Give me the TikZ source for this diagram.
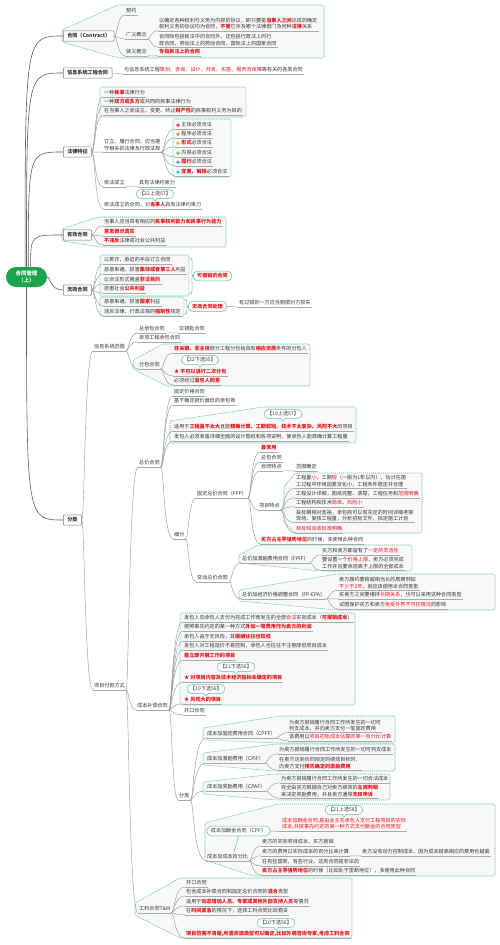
\documentclass[tikz,border=0pt]{standalone}
\usepackage{fontspec}
\setmainfont{Noto Sans CJK SC}
\usetikzlibrary{calc,shapes.misc}
\definecolor{grn}{HTML}{5CC39A}
\definecolor{rootg}{HTML}{1BA34E}
\definecolor{red0}{HTML}{E8141B}
\definecolor{lin}{HTML}{9A9A9A}
\definecolor{rlin}{HTML}{606060}
\definecolor{txt}{HTML}{333333}
\definecolor{bfill}{HTML}{F8F8F8}
\definecolor{ic1}{HTML}{D9252A}
\definecolor{ic2}{HTML}{F0801F}
\definecolor{ic3}{HTML}{F5B300}
\definecolor{ic4}{HTML}{4DB848}
\definecolor{ic5}{HTML}{3A8FD9}
\definecolor{ic6}{HTML}{25B3C4}
\newcommand\fs{\fontsize{5.1}{6.6}\selectfont}
\newcommand\rb[1]{\textcolor{red0}{\bfseries #1}}
\newcommand\rn[1]{\textcolor{red0}{#1}}
\newcommand\cptr[1]{%
  \fill[white] ([xshift=-1.9pt,yshift=0.6pt]#1.south) -- ([yshift=-2.4pt]#1.south) -- ([xshift=1.9pt,yshift=0.6pt]#1.south) -- cycle;
  \draw[draw=grn,line width=0.5pt,line join=round] ([xshift=-1.9pt]#1.south) -- ([yshift=-2.4pt]#1.south) -- ([xshift=1.9pt]#1.south);}
\tikzset{
  uline/.style={draw=lin!85, line width=0.35pt},
  lf/.style={anchor=west, inner xsep=1pt, inner ysep=1.2pt, align=left, text=txt, font=\fs,
    append after command={(\tikzlastnode.south west) edge[uline] (\tikzlastnode.south east)}},
  l1/.style={anchor=west, draw=lin!80!black, line width=0.5pt, fill=white, rounded corners=0.8pt,
    inner xsep=4pt, inner ysep=2.6pt, font=\fs\bfseries, text=txt},
  rootn/.style={rounded rectangle, fill=rootg, text=white, font=\fontsize{5.4}{7.4}\selectfont\bfseries,
    minimum width=43pt, minimum height=20pt, align=center, inner sep=1pt},
  bnd/.style={draw=grn, line width=0.55pt, dash pattern=on 1.2pt off 0.8pt, fill=bfill, rounded corners=1.5pt},
  callo/.style={draw=grn, line width=0.5pt, fill=white, rounded corners=4.2pt, inner xsep=3pt, inner ysep=2pt, font=\fs, text=txt},
  sumbox/.style={draw=grn, line width=0.6pt, fill=white, rounded corners=4.5pt, inner xsep=4pt, inner ysep=2.4pt, font=\fs\bfseries, text=red0},
  sumln/.style={draw=grn, line width=0.5pt},
  icn/.style={circle, fill=#1, minimum size=3.6pt, inner sep=0pt, text=white, font=\fontsize{2.6}{2.6}\selectfont\bfseries},
  br/.style={draw=lin, line width=0.45pt,
    to path={(\tikztostart) .. controls ($(\tikztostart)+(3,0)$) and ($(\tikztostart |- \tikztotarget)+(3,0)$) .. (\tikztotarget)}},
  rootbr/.style={draw=rlin, line width=0.6pt,
    to path={(\tikztostart) .. controls (\tikztostart |- \tikztotarget) .. (\tikztotarget)}},
}
\begin{document}
\begin{tikzpicture}[x=1pt,y=-1pt]
\useasboundingbox[fill=white] (0,0) rectangle (500,945);
% ---------- boundaries ----------
\path[bnd] (62,30) -- (118,5) -- (324,5) -- (324,58) -- (118,58) -- (62,42) -- cycle;
\path[bnd] (100,87) rectangle (246,117);
\path[bnd] (173,119) rectangle (231,177);
\path[bnd] (62,229) -- (98,217) -- (226,217) -- (226,247) -- (100,247) -- (62,241) -- cycle;
\path[bnd] (100,255) rectangle (189,296);
\path[bnd] (100,297) rectangle (184,316);
\path[bnd] (133,360) -- (163,344) -- (310,344) -- (310,386) -- (167,386) -- (133,369) -- cycle;
\path[bnd] (170,421) -- (263,407) -- (356,407) -- (356,443) -- (170,443) -- cycle;
\path[bnd] (284,487) -- (295,473) -- (422,473) -- (422,533) -- (295,533) -- (284,522) -- cycle;
\path[bnd] (239,555) -- (258,545) -- (412,545) -- (412,571) -- (320,571) -- (239,563) -- cycle;
\path[bnd] (239,590) -- (337,574) -- (495,574) -- (495,610) -- (337,610) -- (239,601) -- cycle;
\path[bnd] (180,613) rectangle (355,705);
\path[bnd] (203,728) -- (280,716) -- (395,716) -- (395,743) -- (280,743) -- (203,740) -- cycle;
\path[bnd] (203,753) -- (275,744) -- (395,744) -- (395,771) -- (275,771) -- (203,765) -- cycle;
\path[bnd] (203,782) -- (275,774) -- (390,774) -- (390,800) -- (275,800) -- (203,794) -- cycle;
\path[bnd] (205,823) -- (278,804) -- (495,804) -- (495,876) -- (253,876) -- (205,860) -- cycle;
\path[bnd] (135,903) -- (180,878) -- (352,878) -- (352,938) -- (180,938) -- (135,915) -- cycle;
% ---------- root and level 1 ----------
\node[rootn] (root) at (26.5,277) {合同管理\\（上）};
\node[l1] (n1) at (63,36) {合同（Contract）};
\node[l1] (n2) at (63,73) {信息系统工程合同};
\node[l1] (n3) at (63,152) {法律特征};
\node[l1] (n4) at (63,235) {有效合同};
\node[l1] (n5) at (63,290) {无效合同};
\node[l1] (n6) at (63,520) {分类};
\draw[rootbr] (root.98) to (n1.west);
\draw[rootbr] (root.90) to (n2.west);
\draw[rootbr] (root.80) to (n3.west);
\draw[rootbr] (root.68) to (n4.west);
\draw[br, draw=rlin, line width=0.6pt] (root.east) to (n5.west);
\draw[rootbr] (root.south) to (n6.west);
% ---------- 合同 ----------
\node[lf] (c1a) at (125,11) {契约};
\node[lf] (c1b) at (125,35) {广义概念};
\node[lf] (c1b1) at (158,23.5) {以确定各种权利与义务为内容的协议，即只要是\rb{当事人之间}达成的确定\\权利义务的协议均为合同，\rb{不管}它涉及哪个法律部门及何种\rb{法律}关系};
\node[lf] (c1b2) at (158,40) {合同除包括民法中的合同外，还包括行政法上的行\\政合同、劳动法上的劳动合同、国际法上的国家合同};
\node[lf] (c1c) at (125,52) {狭义概念};
\node[lf] (c1c1) at (158,52) {\rb{专指民法上的合同}};
\foreach \q in {c1a,c1b,c1c} \draw[br] (n1.east) to (\q.south west);
\foreach \q in {c1b1,c1b2} \draw[br] (c1b.south east) to (\q.south west);
\draw[br] (c1c.south east) to (c1c1.south west);
% ---------- 信息系统工程合同 ----------
\node[lf] (c2a) at (123,70) {与信息系统工程\rn{策划、咨询、设计、开发、实施、服务及保障}等有关的各类合同};
\draw[br] (n2.east) to (c2a.south west);
% ---------- 法律特征 ----------
\node[lf] (c3a) at (103,93) {一种\rb{民事}法律行为};
\node[lf] (c3b) at (103,102) {一种\rb{双方或多方}或共同的民事法律行为};
\node[lf] (c3c) at (103,111) {在当事人之间设立、变更、终止\rb{财产性}的民事权利义务为目的};
\node[lf] (c3d) at (103,145) {订立、履行合同，应当遵\\守相关的法律及行政法规};
\node[lf] (i1) at (175,125) {\hspace{5.2pt}主体必须合法};
\node[lf] (i2) at (175,134) {\hspace{5.2pt}程序必须合法};
\node[lf] (i3) at (175,143) {\hspace{5.2pt}\rb{形式}必须合法};
\node[lf] (i4) at (175,153) {\hspace{5.2pt}内容必须合法};
\node[lf] (i5) at (175,162) {\hspace{5.2pt}\rb{履行}必须合法};
\node[lf] (i6) at (175,172) {\hspace{5.2pt}\rb{变更、解除}必须合法};
\node[icn=ic1] (d1) at ([xshift=3pt]i1.west) {1};
\node[icn=ic2] (d2) at ([xshift=3pt]i2.west) {2};
\node[icn=ic3] (d3) at ([xshift=3pt]i3.west) {3};
\node[icn=ic4] (d4) at ([xshift=3pt]i4.west) {4};
\node[icn=ic5] (d5) at ([xshift=3pt]i5.west) {5};
\node[icn=ic6] (d6) at ([xshift=3pt]i6.west) {6};
\node[lf] (c3e) at (103,183) {依法成立};
\node[lf] (c3e1) at (138,183) {具有法律约束力};
\node[lf] (c3f) at (103,205) {依法成立的合同，对\rb{当事人}具有法律约束力};
\node[callo] (co1) at (155,194) {【22上选57】};
\cptr{co1}
\foreach \q in {c3a,c3b,c3c,c3d,c3e,c3f} \draw[br] (n3.east) to (\q.south west);
\foreach \q in {i1,i2,i3,i4,i5,i6} \draw[br] (c3d.south east) to (\q.south west);
\draw[br] (c3e.south east) to (c3e1.south west);
% ---------- 有效合同 ----------
\node[lf] (c4a) at (103,222) {当事人应当具有相应的\rb{民事权利能力和民事行为能力}};
\node[lf] (c4b) at (103,232) {\rb{意思表示真实}};
\node[lf] (c4c) at (103,241) {\rb{不违反}法律或社会公共利益};
\foreach \q in {c4a,c4b,c4c} \draw[br] (n4.east) to (\q.south west);
% ---------- 无效合同 ----------
\node[lf] (c5a) at (103,260) {以欺诈、胁迫的手段订立合同};
\node[lf] (c5b) at (103,270) {恶意串通，损害\rb{集体或者第三人}利益};
\node[lf] (c5c) at (103,280) {以合法形式掩盖\rb{非法目的}};
\node[lf] (c5d) at (103,289) {损害社会\rb{公共利益}};
\node[lf] (c5e) at (103,302) {恶意串通，损害\rb{国家}利益};
\node[lf] (c5f) at (103,312) {违反法律、行政法规的\rb{强制性}规定};
\foreach \q in {c5a,c5b,c5c,c5d,c5e,c5f} \draw[br] (n5.east) to (\q.south west);
\node[sumbox] (s5a) at (212.5,276) {可撤销的合同};
\node[sumbox] (s5b) at (207.5,306.5) {无效合同处理};
\coordinate (b5a1) at (189.5,257.5);
\coordinate (b5a2) at (189.5,294);
\coordinate (b5b1) at (184.5,299);
\coordinate (b5b2) at (184.5,314.5);
\draw[sumln] (b5a1) .. controls (195,257.5) and (190,276) .. (s5a.west);
\draw[sumln] (b5a2) .. controls (195,294) and (190,276) .. (s5a.west);
\draw[sumln] (b5b1) .. controls (189,299) and (185,306.5) .. (s5b.west);
\draw[sumln] (b5b2) .. controls (189,314.5) and (185,306.5) .. (s5b.west);
\node[lf] (c5g) at (238,303) {有过错的一方应当赔偿对方损失};
\draw[br] (s5b.east) to (c5g.south west);
% ---------- 分类 ----------
\node[lf] (c6a) at (93,347) {信息系统范围};
\node[lf] (c6b) at (93,686) {项目付款方式};
\foreach \q in {c6a,c6b} \draw[br] (n6.east) to (\q.south west);
\node[lf] (c6a1) at (138,329) {总承包合同};
\node[lf] (c6a1a) at (178,329) {交钥匙合同};
\node[lf] (c6a2) at (138,338) {单项工程承包合同};
\node[lf] (c6a3) at (138,365) {分包合同};
\foreach \q in {c6a1,c6a2,c6a3} \draw[br] (c6a.south east) to (\q.south west);
\draw[br] (c6a1.south east) to (c6a1a.south west);
\node[lf] (c6a3a) at (173,349) {\rb{非关键、非主体}部分工程分包给具有\rb{相应资质}条件的分包人};
\node[callo] (co2) at (200,360) {【22下选55】};
\cptr{co2}
\node[lf] (c6a3b) at (173,372) {\rb{★ 不可以进行二次分包}};
\node[lf] (c6a3c) at (173,381) {必须经过\rb{发包人同意}};
\foreach \q in {c6a3a,c6a3b,c6a3c} \draw[br] (c6a3.south east) to (\q.south west);
% 总价合同
\node[lf] (c6b1) at (138,463) {总价合同};
\node[lf] (c6b2) at (136,706) {成本补偿合同};
\node[lf] (c6b3) at (138,909) {工料合同T\&M};
\foreach \q in {c6b1,c6b2,c6b3} \draw[br] (c6b.south east) to (\q.south west);
\node[lf] (g1) at (173,392) {固定价格合同};
\node[lf] (g2) at (173,401) {基于确定报价最低的承包商};
\node[callo] (co3) at (283,414) {【19上选57】};
\cptr{co3}
\node[lf] (g3) at (173,427) {适用于\rb{工程量不太大}且能\rb{精确计算、工期较短、技术不太复杂、风险不大}的项目};
\node[lf] (g4) at (173,437) {发包人必须准备详细全面的设计图纸和各项说明，使承包人能准确计算工程量};
\node[lf] (g5) at (173,535) {细分};
\foreach \q in {g1,g2,g3,g4,g5} \draw[br] (c6b1.south east) to (\q.south west);
\node[lf] (ffp) at (196,494) {固定总价合同（FFP）};
\node[lf] (vfp) at (196,578) {变动总价合同};
\foreach \q in {ffp,vfp} \draw[br] (g5.south east) to (\q.south west);
\node[lf] (f1) at (260,448) {\rb{最常用}};
\node[lf] (f2) at (260,458) {总包合同};
\node[lf] (f3) at (260,467) {合同特点};
\node[lf] (f3a) at (295,467) {范围确定};
\node[lf] (f4) at (258,506) {项目特点};
\node[lf] (f5) at (260,540) {\rb{买方占主导强势地位}的时候，多使用此种合同};
\foreach \q in {f1,f2,f3,f4,f5} \draw[br] (ffp.south east) to (\q.south west);
\draw[br] (f3.south east) to (f3a.south west);
\node[lf] (f4a) at (295,481) {工程量\rn{小}、工期\rn{短}（一般为1年以内），估计在施\\工过程中环境因素变化小，工程条件稳定并合理};
\node[lf] (f4b) at (295,494) {工程设计详细，图纸完整、清楚，工程任务和\rn{范围明确}};
\node[lf] (f4c) at (295,503) {工程结构和技术\rn{简单}、\rn{风险小}};
\node[lf] (f4d) at (295,515.5) {投标期相对宽裕，承包商可以有充足的时间详细考察\\现场、复核工程量，分析招标文件，拟定施工计划};
\node[lf] (f4e) at (295,529) {\rn{目标和验收标准明确}};
\foreach \q in {f4a,f4b,f4c,f4d,f4e} \draw[br] (f4.south east) to (\q.south west);
\node[lf] (v1) at (241,559) {总价加激励费用合同（FPIF）};
\node[lf] (v2) at (241,595) {总价加经济价格调整合同（FP-EPA）};
\foreach \q in {v1,v2} \draw[br] (vfp.south east) to (\q.south west);
\node[lf] (v1a) at (321,551) {买方和卖方都留有了\rn{一定的灵活性}};
\node[lf] (v1b) at (321,563) {要设置一个\rn{价格上限}，卖方必须完成\\工作并且要承担高于上限的全部成本};
\foreach \q in {v1a,v1b} \draw[br] (v1.south east) to (\q.south west);
\node[lf] (v2a) at (338,583) {卖方履约要跨越相当长的周期例如\\\rn{不少于2年}，就应该使用本合同类型};
\node[lf] (v2b) at (338,595) {买卖方之间要维持\rn{长期关系}，也可以采用这种合同类型};
\node[lf] (v2c) at (338,605) {试图保护买方和卖方\rn{免受外界不可控情况}的影响};
\foreach \q in {v2a,v2b,v2c} \draw[br] (v2.south east) to (\q.south west);
% 成本补偿合同
\node[lf] (k1) at (183,618) {发包人向承包人支付为完成工作而发生的全部\rn{合法}实际成本（\rb{可报销成本}）};
\node[lf] (k2) at (183,627) {按照事先约定的某一种方式\rb{外加一笔费用作为卖方的利润}};
\node[lf] (k3) at (183,637) {承包人由于无风险，其\rb{报酬往往也较低}};
\node[lf] (k4) at (183,646) {发包人对工程造价不易控制，承包人也往往不注意降低项目成本};
\node[lf] (k5) at (183,656) {\rb{需立即开展工作的项目}};
\node[callo] (co4) at (236,667) {【21下选56】};
\cptr{co4}
\node[lf] (k6) at (183,678) {\rb{★ 对项目内容及技术经济指标未确定的项目}};
\node[callo] (co5) at (206,689) {【19下选56】};
\cptr{co5}
\node[lf] (k7) at (183,700) {\rb{★ 风险大的项目}};
\node[lf] (k8) at (183,711) {开口合同};
\node[lf] (k9) at (178,796) {分类};
\foreach \q in {k1,k2,k3,k4,k5,k6,k7,k8,k9} \draw[br] (c6b2.south east) to (\q.south west);
\node[lf] (p1) at (206,734) {成本加固定费用合同（CPFF）};
\node[lf] (p2) at (206,759) {成本加激励费用（CPIF）};
\node[lf] (p3) at (206,787) {成本加奖励费用（CPAF）};
\node[lf] (p4) at (206,857) {成本加成本百分比};
\foreach \q in {p1,p2,p3,p4} \draw[br] (k9.south east) to (\q.south west);
\node[lf] (p1a) at (288,725.5) {为卖方报销履行合同工作所发生的一切可\\列支成本，并向卖方支付一笔固定费用};
\node[lf] (p1b) at (288,737) {该费用以\rn{项目初始成本估算的某一百分比计算}};
\foreach \q in {p1a,p1b} \draw[br] (p1.south east) to (\q.south west);
\node[lf] (p2a) at (278,750) {为卖方报销履行合同工作所发生的一切可列支成本};
\node[lf] (p2b) at (278,763) {在卖方达到合同规定的绩效目标时，\\向卖方支付\rb{预先确定的激励费用}};
\foreach \q in {p2a,p2b} \draw[br] (p2.south east) to (\q.south west);
\node[lf] (p3a) at (280,779) {为卖方报销履行合同工作所发生的一切合法成本};
\node[lf] (p3b) at (280,791) {完全由买方根据自己对卖方绩效的\rb{主观判断}\\来决定奖励费用，并且卖方通常\rb{无权申诉}};
\foreach \q in {p3a,p3b} \draw[br] (p3.south east) to (\q.south west);
\node[callo] (co6) at (344,810) {【21上选58】};
\cptr{co6}
\node[callo, rounded corners=4.5pt, inner xsep=4pt, inner ysep=2.4pt] (cpf) at (238.5,831) {成本加酬金合同（CPF）};
\draw[sumln] (cpf.south) -- ([xshift=6pt]p4.north);
\node[lf] (p4a) at (281,824) {\rn{成本加酬金合同,是由业主向承包人支付工程项目的实际}\\\rn{成本,并按事先约定的某一种方式支付酬金的合同类型}};
\draw[br] (cpf.east) to (p4a.south west);
\node[lf] (p4b) at (261,842) {卖方的实际项目成本，买方报销};
\node[lf] (p4c) at (261,852) {卖方的费用以实际成本的百分比来计算};
\node[lf] (p4c1) at (361,852) {卖方没有动力控制成本，因为成本越高相应的费用也越高};
\node[lf] (p4d) at (261,862) {在有些国家，有些行业，这类合同是非法的};
\node[lf] (p4e) at (261,871) {\rb{卖方占主导强势地位}的时候（比如处于垄断地位），多使用此种合同};
\foreach \q in {p4b,p4c,p4d,p4e} \draw[br] (p4.south east) to (\q.south west);
\draw[br] (p4c.south east) to (p4c1.south west);
% 工料合同
\node[lf] (t1) at (185,883) {开口合同};
\node[lf] (t2) at (185,892) {包含成本补偿合同和固定总价合同的\rb{混合}类型};
\node[lf] (t3) at (185,902) {适用于\rb{动态增加人员、专家或其他外部支持人员}等情况};
\node[lf] (t4) at (185,911) {在\rb{时间紧急}的情况下，选择工料合同比较稳妥};
\node[callo] (co7) at (276,923) {【20下选56】};
\cptr{co7}
\node[lf] (t5) at (185,934) {\rb{项目范围不清楚,所需资源类型可以确定,比如外聘咨询专家,考虑工料合同}};
\foreach \q in {t1,t2,t3,t4,t5} \draw[br] (c6b3.south east) to (\q.south west);
\end{tikzpicture}
\end{document}
